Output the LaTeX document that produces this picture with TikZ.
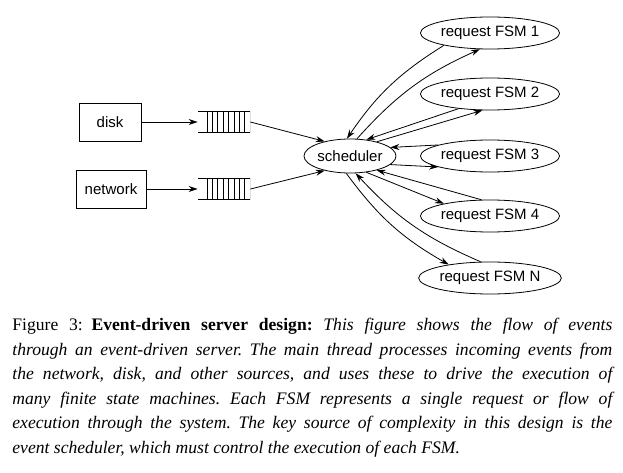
\documentclass[tikz,border=0pt]{standalone}
\usepackage{fontspec}
\setmainfont{Liberation Serif}
\newfontfamily\diagfont{Liberation Sans}
\usetikzlibrary{shapes.geometric,arrows.meta}
\frenchspacing
\begin{document}
\begin{tikzpicture}[x=1pt,y=-1pt,
  box/.style={draw,rectangle,minimum width=62pt,minimum height=38pt,font=\diagfont\fontsize{15}{17}\selectfont},
  fsm/.style={draw,ellipse,minimum width=118pt,minimum height=32pt,inner sep=0pt,font=\diagfont\fontsize{15}{17}\selectfont},
  queue/.style={minimum width=52pt,minimum height=21pt,inner sep=0pt,
    path picture={
      \draw (path picture bounding box.north west) -- (path picture bounding box.north east)
        -- (path picture bounding box.south east) -- (path picture bounding box.south west);
      \foreach \i in {0,...,7}
        \draw ([xshift=9pt+\i*5.4pt]path picture bounding box.north west) -- ([xshift=9pt+\i*5.4pt]path picture bounding box.south west);
    }},
  arr/.style={-{Stealth[length=9pt,width=6pt]}},
  every path/.style={line width=0.8pt}]
\useasboundingbox (0,0) rectangle (623,473);
\node[box] (disk) at (110,122) {disk};
\node[box,minimum width=70pt] (net) at (111,189) {network};
\node[queue] (q1) at (224,122) {};
\node[queue] (q2) at (224,189) {};
\node[draw,ellipse,minimum width=88pt,minimum height=34pt,inner sep=0pt,font=\diagfont\fontsize{15}{17}\selectfont] (sch) at (350,156) {scheduler};
\node[fsm] (f1) at (490,33) {request FSM 1};
\node[fsm] (f2) at (490,94) {request FSM 2};
\node[fsm] (f3) at (490,156) {request FSM 3};
\node[fsm] (f4) at (490,216) {request FSM 4};
\node[fsm] (fn) at (490,278) {request FSM N};
\draw[arr] (disk.east) -- (q1.west);
\draw[arr] (net.east) -- (q2.west);
\draw[arr] (q1.east) -- (sch.150);
\draw[arr] (q2.east) -- (sch.-150);
\draw[arr] (f1.195) to[bend right=12] (sch.100);
\draw[arr] (sch.68) to[bend left=12] (f1.238);
\draw[arr] (f2.205) -- (sch.45);
\draw[arr] (sch.28) -- (f2.245);
\draw[arr] (f3.168) -- (sch.12);
\draw[arr] (sch.-12) -- (f3.192);
\draw[arr] (f4.118) -- (sch.-28);
\draw[arr] (sch.-45) -- (f4.165);
\draw[arr] (fn.120) to[bend left=12] (sch.-72);
\draw[arr] (sch.-102) to[bend right=12] (fn.162);
\node[anchor=north west,inner sep=0pt,text width=600pt,align=justify,
  font=\fontsize{17.6}{24.5}\selectfont] (cap) at (12,318) {Figure 3:\enspace\textbf{Event-driven server design:} \textit{This figure shows the flow of events\linebreak
through an event-driven server. The main thread processes incoming events from\linebreak
the network, disk, and other sources, and uses these to drive the execution of\linebreak
many finite state machines. Each FSM represents a single request or flow of\linebreak
execution through the system. The key source of complexity in this design is the\linebreak
event scheduler, which must control the execution of each FSM.}};
\end{tikzpicture}
\end{document}
